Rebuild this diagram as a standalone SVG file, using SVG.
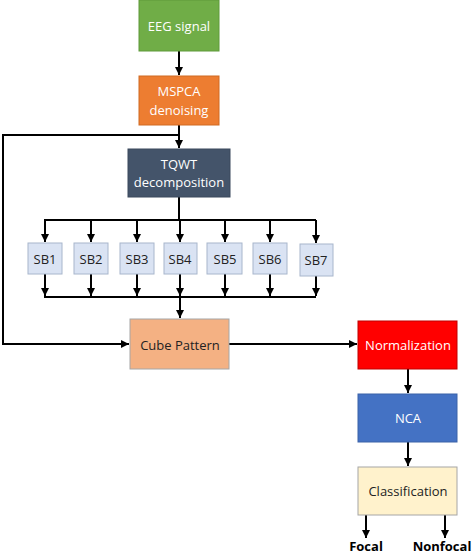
<svg xmlns="http://www.w3.org/2000/svg" width="474" height="556" viewBox="0 0 474 556">
<style>
text{font-family:"Open Sans","Liberation Sans",sans-serif;font-size:13px;text-anchor:middle;dominant-baseline:central}
.w{fill:#fff}
.d{fill:#222}
.sb{fill:#DAE3F3;stroke:#A8B6CC;stroke-width:1}
.ln{stroke:#000;stroke-width:2;fill:none}
.lb{font-weight:bold;fill:#000}
</style>
<defs>
<marker id="ah" viewBox="0 0 10 10" refX="10" refY="5" markerWidth="4" markerHeight="4" orient="auto" markerUnits="strokeWidth">
<path d="M0,0 L10,5 L0,10 z" fill="#000"/>
</marker>
</defs>
<rect width="474" height="556" fill="#fff"/>
<g id="connectors">
<path class="ln" d="M179,51 V75" marker-end="url(#ah)"/>
<path class="ln" d="M179,125 V148" marker-end="url(#ah)"/>
<path class="ln" d="M179,135 H3 V344 H129" marker-end="url(#ah)"/>
<path class="ln" d="M179,197 V220"/>
<path class="ln" d="M44,220 H316"/>
<path class="ln" d="M45,220 V242" marker-end="url(#ah)"/>
<path class="ln" d="M91,220 V242" marker-end="url(#ah)"/>
<path class="ln" d="M137,220 V242" marker-end="url(#ah)"/>
<path class="ln" d="M180,220 V242" marker-end="url(#ah)"/>
<path class="ln" d="M225,220 V242" marker-end="url(#ah)"/>
<path class="ln" d="M270,220 V242" marker-end="url(#ah)"/>
<path class="ln" d="M316,220 V243" marker-end="url(#ah)"/>
<path class="ln" d="M45,274 V296" marker-end="url(#ah)"/>
<path class="ln" d="M91,274 V296" marker-end="url(#ah)"/>
<path class="ln" d="M137,274 V296" marker-end="url(#ah)"/>
<path class="ln" d="M180,274 V296" marker-end="url(#ah)"/>
<path class="ln" d="M225,274 V296" marker-end="url(#ah)"/>
<path class="ln" d="M270,274 V296" marker-end="url(#ah)"/>
<path class="ln" d="M316,276 V296" marker-end="url(#ah)"/>
<path class="ln" d="M44,297 H316"/>
<path class="ln" d="M180,297 V318" marker-end="url(#ah)"/>
<path class="ln" d="M229,344 H357" marker-end="url(#ah)"/>
<path class="ln" d="M408,369 V393" marker-end="url(#ah)"/>
<path class="ln" d="M408,442 V466" marker-end="url(#ah)"/>
<path class="ln" d="M366,515 V538" marker-end="url(#ah)"/>
<path class="ln" d="M445,515 V538" marker-end="url(#ah)"/>
</g>
<g id="eeg">
<rect x="139" y="0" width="80" height="51" fill="#70AD47" stroke="#5E9A3A" stroke-width="1"/>
<text class="w" x="179" y="26">EEG signal</text>
</g>
<g id="mspca">
<rect x="139" y="76" width="80" height="49" fill="#ED7D31" stroke="#D06A22" stroke-width="1"/>
<text class="w" x="179" y="91">MSPCA</text>
<text class="w" x="179" y="110">denoising</text>
</g>
<g id="tqwt">
<rect x="128" y="149" width="102" height="48" fill="#44546A" stroke="#3A485C" stroke-width="1"/>
<text class="w" x="179" y="164">TQWT</text>
<text class="w" x="179" y="182">decomposition</text>
</g>
<g id="sb1"><rect class="sb" x="28" y="243" width="34" height="31"/><text class="d" x="45" y="259">SB1</text></g>
<g id="sb2"><rect class="sb" x="74" y="243" width="34" height="31"/><text class="d" x="91" y="259">SB2</text></g>
<g id="sb3"><rect class="sb" x="120" y="243" width="34" height="31"/><text class="d" x="137" y="259">SB3</text></g>
<g id="sb4"><rect class="sb" x="164" y="243" width="33" height="31"/><text class="d" x="180" y="259">SB4</text></g>
<g id="sb5"><rect class="sb" x="207" y="243" width="35" height="31"/><text class="d" x="225" y="259">SB5</text></g>
<g id="sb6"><rect class="sb" x="253" y="243" width="34" height="31"/><text class="d" x="270" y="259">SB6</text></g>
<g id="sb7"><rect class="sb" x="300" y="244" width="33" height="32"/><text class="d" x="316" y="260">SB7</text></g>
<g id="cube">
<rect x="130" y="319" width="99" height="50" fill="#F4B183" stroke="#A6A6A6" stroke-width="1"/>
<text class="d" x="180" y="345">Cube Pattern</text>
</g>
<g id="norm">
<rect x="358" y="321" width="99" height="48" fill="#FF0000" stroke="#C00000" stroke-width="1"/>
<text class="w" x="408" y="345">Normalization</text>
</g>
<g id="nca">
<rect x="358" y="394" width="99" height="48" fill="#4472C4" stroke="#3A62A8" stroke-width="1"/>
<text class="w" x="408" y="418">NCA</text>
</g>
<g id="class">
<rect x="358" y="467" width="99" height="48" fill="#FFF2CC" stroke="#A6A6A6" stroke-width="1"/>
<text class="d" x="408" y="491">Classification</text>
</g>
<g id="focal"><text class="lb" x="366" y="546">Focal</text></g>
<g id="nonfocal"><text class="lb" x="442" y="546">Nonfocal</text></g>
</svg>
